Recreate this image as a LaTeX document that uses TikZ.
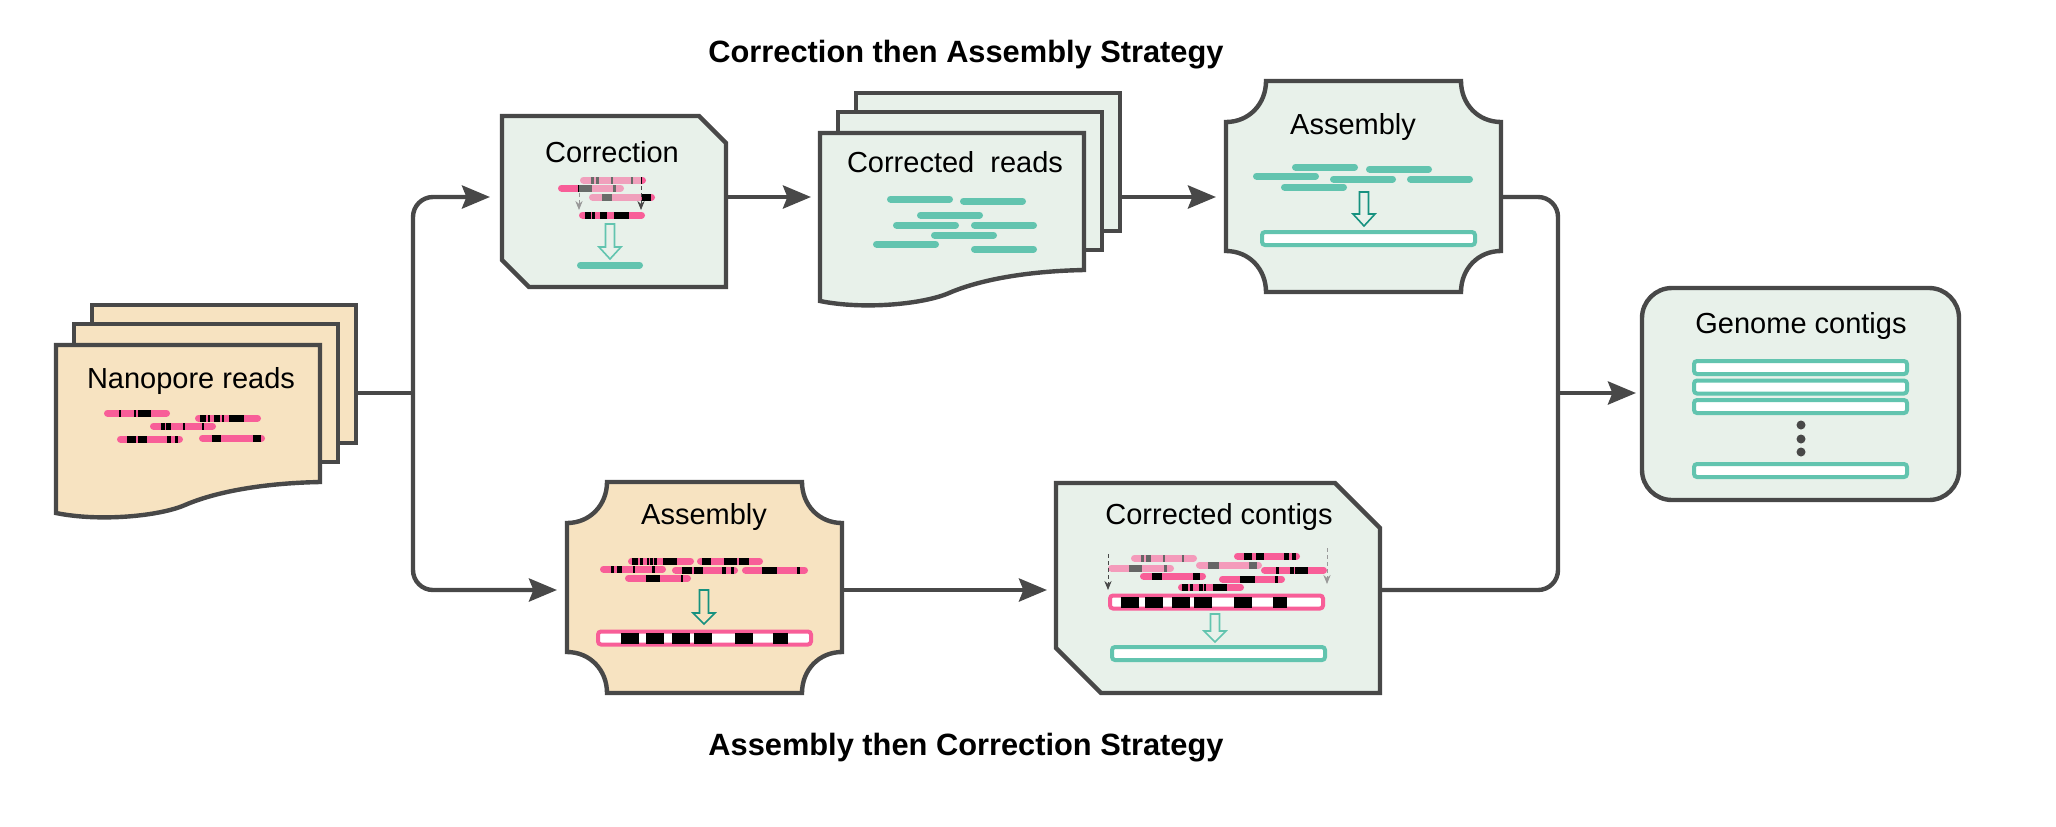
\documentclass[tikz,border=0pt]{standalone}
\usepackage{fontspec}
\setmainfont{Liberation Sans}
\usetikzlibrary{arrows.meta}

\definecolor{sheetdark}{HTML}{484848}
\definecolor{tan}{HTML}{F7E3C1}
\definecolor{mint}{HTML}{E8F1EA}
\definecolor{readpink}{HTML}{F85E98}
\definecolor{fadepink}{HTML}{F49BBB}
\definecolor{fadebar}{HTML}{666666}
\definecolor{teal}{HTML}{62C4AF}
\definecolor{deepteal}{HTML}{16917F}

% one picture unit is one pixel of the reference, y runs down
\newcommand\pinkread[4]{%
  \draw [line width=3.5pt, line cap=round, #1] (#2+3.5,#3) -- (#2+62.5,#3);
  \foreach \a/\b in {#4} { \fill [black] (\a,#3-3.5) rectangle (\b,#3+3.5); }
}
\newcommand\faderead[3]{%
  \draw [line width=3.5pt, line cap=round, fadepink] (#1+3.5,#2) -- (#1+62.5,#2);
  \foreach \a/\b in {#3} { \fill [fadebar] (\a,#2-3.5) rectangle (\b,#2+3.5); }
}
\newcommand\tealread[2]{%
  \draw [line width=3.5pt, line cap=round, teal] (#1+3.5,#2) -- (#1+62.5,#2);
}
\newcommand\contigbar[3]{%
  \draw [#3, fill=white, line width=2pt, rounded corners=1.5pt] (#1,#2-6.5) rectangle (#1+213,#2+6.5);
}
\newcommand\hollowarrow[5]{%
  \draw [#5, line width=.8pt, line join=miter]
    (#1-4.5,#2) -- (#1+4.5,#2) -- (#1+4.5,#3) -- (#1+11,#3) -- (#1,#4) -- (#1-11,#3) -- (#1-4.5,#3) -- cycle;
}
\newcommand\stacksheets[3]{%
  \begin{scope}[shift={(#1,#2)}]
    \draw [outline, fill=#3] (92,305) rectangle (356,443);
    \draw [outline, fill=#3] (74,324) rectangle (338,462);
    \draw [outline, fill=#3] (56,345) -- (320,345) -- (320,482)
      .. controls (270,483) and (220,490) .. (185,505)
      .. controls (160,516) and (100,522) .. (56,513) -- cycle;
  \end{scope}
}
\newcommand\ticketbox[5]{%
  \draw [outline, fill=#5] (#1+40,#2)
    -- (#3-40,#2) .. controls (#3-40,#2+23) and (#3-23,#2+41) .. (#3,#2+41)
    -- (#3,#4-41) .. controls (#3-23,#4-41) and (#3-40,#4-23) .. (#3-40,#4)
    -- (#1+40,#4) .. controls (#1+40,#4-23) and (#1+23,#4-41) .. (#1,#4-41)
    -- (#1,#2+41) .. controls (#1+23,#2+41) and (#1+40,#2+23) .. (#1+40,#2) -- cycle;
}
\newcommand\clipbox[5]{%
  \draw [outline, fill=mint] (#1,#2) -- (#3-#5,#2) -- (#3,#2+#5) -- (#3,#4)
    -- (#1+#5,#4) -- (#1,#4-#5) -- cycle;
}
\newcommand\portnode[4]{%
  \node [port, minimum width={(#3-#2)*0.5pt}] (#1) at ({(#2+#3)/2},#4) {};
}

\begin{document}
\begin{tikzpicture}[x=0.5pt, y=-0.5pt]
\tikzset{ >={Stealth[length=14pt, width=11.5pt, inset=2.2pt]},
  outline/.style={sheetdark, line width=2.2pt, line join=miter},
  port/.style={inner sep=0pt, outer sep=0pt, minimum height=1pt},
  link/.style={sheetdark, line width=2.2pt},
  boxlabel/.style={inner sep=0pt, font=\fontsize{14.5}{17}\selectfont},
  strategy/.style={inner sep=0pt, font=\fontsize{15.4}{18}\selectfont\bfseries},
  faintdash/.style={line width=.4pt, dash pattern=on 2pt off 1.5pt},
  smalltip/.style={-{Stealth[length=4.5pt, width=3.6pt]}},
}

\useasboundingbox (0,0) rectangle (2056,826);

%\draw [lightgray, dashed](0,0) grid (2056,826);

\node [strategy] (topstrategy) at (966,55) {Correction then Assembly Strategy};
\node [strategy] (lowstrategy) at (966,748) {Assembly then Correction Strategy};

% boxes
\stacksheets{0}{0}{tan}
\stacksheets{764}{-212}{mint}
\clipbox{502}{116}{726}{287}{27}
\clipbox{1056}{483}{1380}{693}{45}
\ticketbox{1226}{81}{1501}{292}{mint}
\ticketbox{567}{482}{842}{693}{tan}
\draw [outline, fill=mint, rounded corners=15pt] (1642,288) rectangle (1959,500);

\portnode{reads}{92}{356}{393}
\portnode{correction}{502}{726}{197}
\portnode{corrected}{856}{1120}{197}
\portnode{asmtop}{1226}{1501}{197}
\portnode{asmlow}{567}{842}{590}
\portnode{contigs}{1056}{1380}{590}
\portnode{genome}{1642}{1959}{393}
\coordinate (split) at (413,393);
\coordinate (merge) at (1558,393);

\node [boxlabel] (readslabel) at (191,381) {Nanopore reads};
\node [boxlabel] (correctionlabel) at (612,152) {Correction};
\node [boxlabel] (correctedlabel) at (955,162) {Corrected\ \ reads};
\node [boxlabel] (asmtoplabel) at (1353,127) {Assembly};
\node [boxlabel] (asmlowlabel) at (704,517) {Assembly};
\node [boxlabel] (contigslabel) at (1219,517) {Corrected contigs};
\node [boxlabel] (genomelabel) at (1801,326) {Genome contigs};

% connectors
\draw [link] (reads.east) -- (split);
\draw [link, ->, rounded corners=10pt, shorten >=6pt] (split) |- (correction.west);
\draw [link, ->, rounded corners=10pt, shorten >=5pt] (split) |- (asmlow.west);
\draw [link, ->, shorten >=4.5pt] (correction.east) -- (corrected.west -| 820,197);
\draw [link, ->, shorten >=5pt] (corrected.east) -- (asmtop.west);
\draw [link, ->, shorten >=4.5pt] (asmlow.east) -- (contigs.west);
\draw [link, rounded corners=10pt] (asmtop.east) -| (merge);
\draw [link, rounded corners=10pt] (contigs.east) -| (merge);
\draw [link, ->, shorten >=3pt] (merge) -- (genome.west);

% nanopore reads
\pinkread{readpink}{104}{413}{119/120.5,134/136,138/151}
\pinkread{readpink}{195}{418}{200/206,208/210,214/220,222/224,229/244}
\pinkread{readpink}{150}{426}{161/165,166/171,183/185,202/204}
\pinkread{readpink}{117}{439}{127/136,138/147,167/171,175/178}
\pinkread{readpink}{199}{438}{212/221,253/261}

% correction
\pinkread{readpink}{580}{180}{591/594,596/599,611/613,631/633,641/642}
\pinkread{readpink}{558}{188}{578/592,613/616}
\pinkread{readpink}{589}{197}{602/612,642/651}
\fill [mint, opacity=.45] (579,176) rectangle (641,213);
\draw [faintdash, gray!80, smalltip] (579,193) -- (579,210);
\draw [faintdash, sheetdark, smalltip] (641,186) -- (641,210);
\pinkread{readpink}{579}{215}{585/591,592/595,600/607,614/629}
\hollowarrow{610}{224}{247}{259}{teal}
\tealread{577}{265}

% corrected reads
\tealread{887}{199}
\tealread{960}{201}
\tealread{917}{215}
\tealread{893}{225}
\tealread{971}{225}
\tealread{931}{235}
\tealread{873}{244}
\tealread{971}{249}

% assembly of corrected reads
\tealread{1292}{167}
\tealread{1366}{169}
\tealread{1253}{176}
\tealread{1330}{179}
\tealread{1407}{179}
\tealread{1281}{187}
\hollowarrow{1364}{192}{214}{226}{deepteal}
\contigbar{1262}{238.5}{teal}

% assembly of raw reads
\pinkread{readpink}{628}{561}{632/638,640/643,647/649,650/653,654/657,663/677}
\pinkread{readpink}{697}{561}{702/711,724/737,739/749}
\pinkread{readpink}{600}{569}{611/614,617/622,633/635,652/655}
\pinkread{readpink}{672}{570}{682/692,694/703,722/726,731/734}
\pinkread{readpink}{742}{570}{762/777,797/800}
\pinkread{readpink}{625}{578}{646/660,681/683}
\hollowarrow{704}{590}{613}{624}{deepteal}
\contigbar{598}{638}{readpink}
\foreach \a/\b in {621/639,646/664,672/690,694/712,735/753,773/788} {
  \fill [black] (\a,632.5) rectangle (\b,643.5);
}

% corrected contigs
\faderead{1131}{558}{1141/1144,1146/1151,1163/1165,1182/1184}
\faderead{1108}{568}{1129/1142,1164/1167}
\pinkread{readpink}{1140}{576}{1152/1162,1193/1200}
\pinkread{readpink}{1178}{587}{1182/1188,1190/1193,1199/1203,1204/1206,1213/1227}
\faderead{1196}{565}{1208/1219,1249/1257}
\pinkread{readpink}{1234}{556}{1244/1252,1256/1264,1284/1289,1292/1296}
\pinkread{readpink}{1261}{570}{1276/1279,1290/1294,1295/1308}
\pinkread{readpink}{1219}{579}{1240/1255,1275/1278}
\draw [faintdash, sheetdark, smalltip] (1108,554) -- (1108,590);
\draw [faintdash, gray!80, smalltip] (1327,548) -- (1327,584);
\contigbar{1110}{602}{readpink}
\foreach \a/\b in {1121/1139,1145/1163,1172/1190,1194/1212,1234/1252,1273/1287} {
  \fill [black] (\a,596.5) rectangle (\b,607.5);
}
\hollowarrow{1215}{614}{631}{642}{teal}
\contigbar{1112}{653.5}{teal}

% genome contigs
\contigbar{1694}{367.5}{teal}
\contigbar{1694}{387}{teal}
\contigbar{1694}{406.5}{teal}
\foreach \y in {425,439,452} {
  \fill [sheetdark] (1801,\y) circle [radius=4.5];
}
\contigbar{1694}{470.5}{teal}

\end{tikzpicture}
\end{document}
